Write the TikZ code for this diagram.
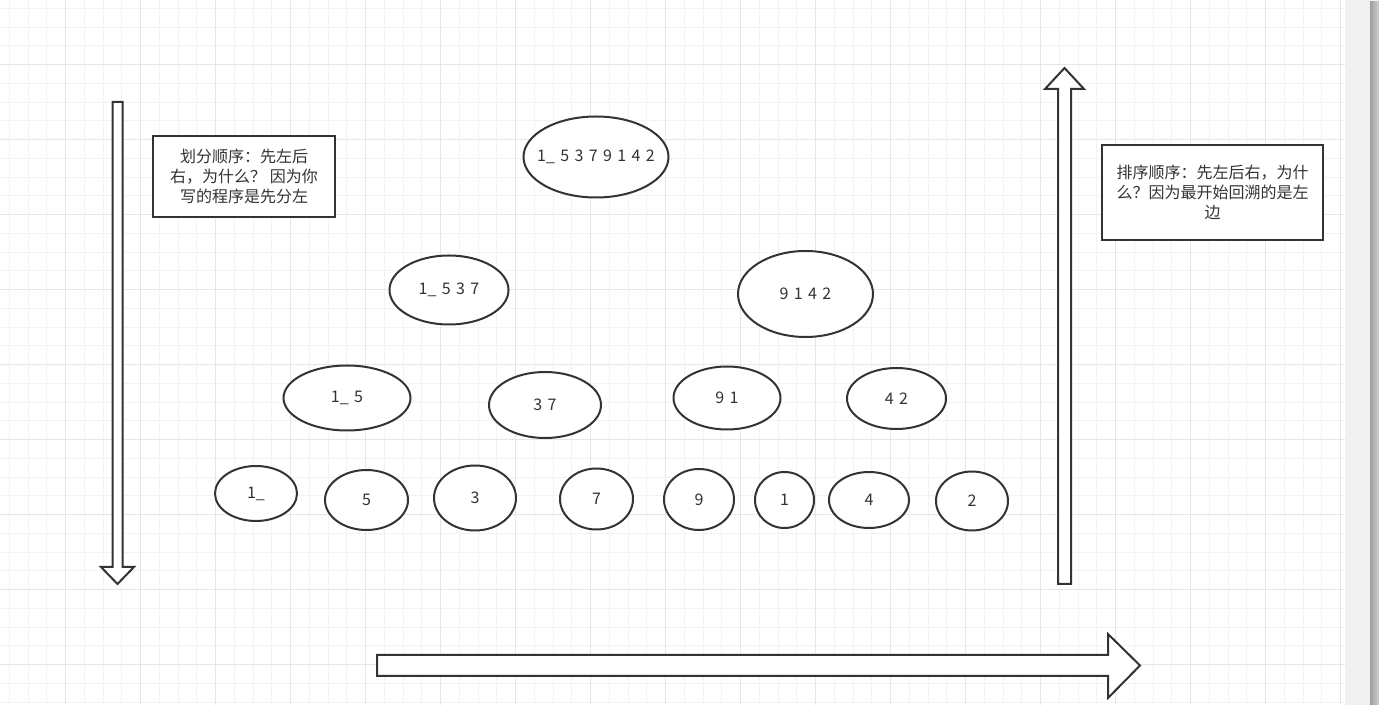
\documentclass[tikz,border=0pt]{standalone}
\usepackage{fontspec}
\setmainfont{Noto Sans CJK SC}
\newfontfamily\elemfont{Noto Sans CJK SC}[WordSpace=1.5]
\usetikzlibrary{shapes.geometric}

\definecolor{linegray}{HTML}{333333}
\definecolor{textgray}{HTML}{333333}
\definecolor{minorgrid}{HTML}{F3F3F3}
\definecolor{majorgrid}{HTML}{E6E6E6}
\definecolor{sidegray}{HTML}{F0F0F0}

\begin{document}
\begin{tikzpicture}[x=0.75pt,y=-0.75pt,
  elem/.style={ellipse,draw=linegray,line width=1.5pt,fill=white,
    inner xsep=-12pt,inner ysep=0pt,
    text=textgray,font=\elemfont\fontsize{12}{15}\selectfont},
  note/.style={rectangle,draw=linegray,line width=1.5pt,fill=white,inner sep=0pt,
    align=center,text=textgray,font=\fontsize{12}{15}\selectfont},
  pxsize/.style 2 args={minimum width=#1*0.75pt,minimum height=#2*0.75pt},
  blockarrow/.style={draw=linegray,line width=1.5pt,fill=white,line join=miter}]
  \useasboundingbox (0,0) rectangle (1379,705);
  \fill[white] (0,0) rectangle (1345,705);
  % grid
  \foreach \i in {0,...,71}
    \draw[minorgrid,line width=0.75pt] ({9.3+18.75*\i},0) -- ++(0,705);
  \foreach \i in {0,...,37}
    \draw[minorgrid,line width=0.75pt] (0,{8.3+18.75*\i}) -- ++(1345,0);
  \foreach \i in {0,...,17}
    \draw[majorgrid,line width=0.75pt] ({65.55+75*\i},0) -- ++(0,705);
  \foreach \i in {0,...,8}
    \draw[majorgrid,line width=0.75pt] (0,{64.55+75*\i}) -- ++(1345,0);
  % side bar
  \fill[sidegray] (1345,0) rectangle (1379,705);
  \shade[left color=black!38,right color=black!18] (1370,2) rectangle (1379,705);

  % arrows
  \draw[blockarrow] (112.5,102) -- (122.5,102) -- (122.5,567) -- (134,567)
    -- (117.5,584) -- (101,567) -- (112.5,567) -- cycle;
  \draw[blockarrow] (1058,584) -- (1071,584) -- (1071,89) -- (1084,89)
    -- (1064.5,68) -- (1045,89) -- (1058,89) -- cycle;
  \draw[blockarrow] (377,655) -- (1108,655) -- (1108,634) -- (1140,665.5)
    -- (1108,698) -- (1108,676) -- (377,676) -- cycle;

  % notes
  \node (splitnote) at (244,176.5) [note,pxsize={182}{81}]
    {划分顺序：先左后\\右，为什么？ 因为你\\写的程序是先分左};
  \node (sortnote) at (1212.5,192.5) [note,pxsize={221}{95}]
    {排序顺序：先左后右，为什\\么？因为最开始回溯的是左\\边};

  % split tree
  \node (all)   at (596,157)   [elem,pxsize={145}{81}] {1\_ 5 3 7 9 1 4 2};
  \node (left)  at (449,290)   [elem,pxsize={119}{69}] {1\_ 5 3 7};
  \node (right) at (805.5,294) [elem,pxsize={135}{86}] {9 1 4 2};
  \node (ll)    at (347,398)   [elem,pxsize={127}{65}] {1\_ 5};
  \node (lr)    at (545,405)   [elem,pxsize={112}{66}] {3 7};
  \node (rl)    at (727,398)   [elem,pxsize={107}{63}] {9 1};
  \node (rr)    at (896.5,398.5) [elem,pxsize={99}{61}] {4 2};
  \node (a)     at (256,493.5) [elem,pxsize={82}{55}] {1\_};
  \node (b)     at (366.5,500) [elem,pxsize={83}{60}] {5};
  \node (c)     at (475,498)   [elem,pxsize={82}{65}] {3};
  \node (d)     at (596.5,499) [elem,pxsize={73}{61}] {7};
  \node (e)     at (699,499.5) [elem,pxsize={70}{61}] {9};
  \node (f)     at (784.5,500) [elem,pxsize={59}{56}] {1};
  \node (g)     at (869,500)   [elem,pxsize={80}{56}] {4};
  \node (h)     at (972,501)   [elem,pxsize={72}{59}] {2};
\end{tikzpicture}
\end{document}
